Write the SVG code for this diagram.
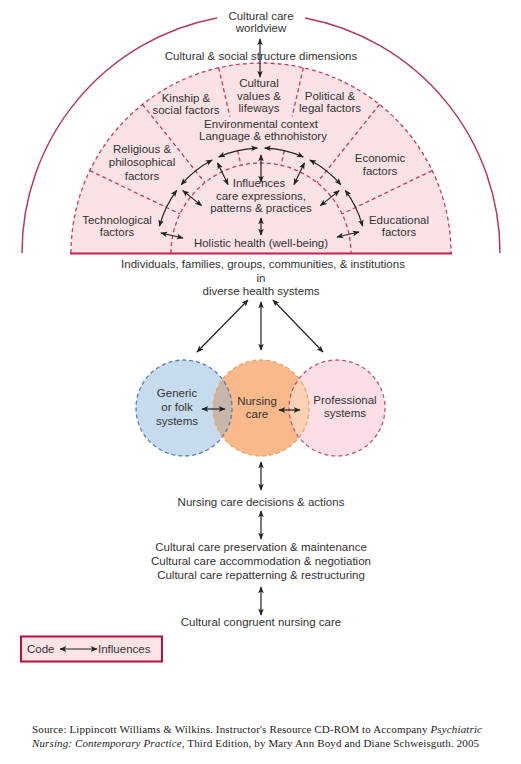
<svg xmlns="http://www.w3.org/2000/svg" width="521" height="764" viewBox="0 0 521 764">
<style>
text{font-family:"Liberation Sans",Arial,sans-serif;font-size:11.5px;fill:#333;text-anchor:middle}
.src{font-family:"Liberation Serif","Times New Roman",serif;font-size:11px;fill:#222;text-anchor:start}
.dash{fill:none;stroke:#c93a62;stroke-width:1.3;stroke-dasharray:4 3}
.arr{fill:none;stroke:#222;stroke-width:1.2;marker-start:url(#ah);marker-end:url(#ah)}
</style>
<defs>
<marker id="ah" viewBox="0 0 10 10" refX="9" refY="5" markerWidth="7" markerHeight="7" markerUnits="userSpaceOnUse" orient="auto-start-reverse">
<path d="M0,1 L10,5 L0,9 L2.5,5 Z" fill="#222"/>
</marker>
<clipPath id="cBlue"><circle cx="184" cy="408" r="48"/></clipPath>
<clipPath id="cPink"><circle cx="337" cy="408" r="48"/></clipPath>
</defs>
<rect width="521" height="764" fill="#fff"/>

<g id="worldview">
<path d="M22,253 A239,239 0 0,1 217,18.1 M305,18.1 A239,239 0 0,1 500,253" fill="none" stroke="#b23a5e" stroke-width="1.5"/>
<text x="261" y="20">Cultural care</text>
<text x="261" y="32">worldview</text>
</g>

<g id="social-structure">
<path d="M71,253 A190,190 0 0,1 451,253 Z" fill="#fbe2e5" stroke="none"/>
<path d="M71,253 A190,190 0 0,1 451,253" class="dash"/>
<path class="dash" d="M432.18,170.56 L342.09,213.95 M379.46,104.45 L317.11,182.64 M303.28,67.76 L292.15,116.51 M284.36,150.63 L281.03,165.26 M218.72,67.76 L229.85,116.51 M237.64,150.63 L240.97,165.26 M142.54,104.45 L204.89,182.64 M89.82,170.56 L179.91,213.95"/>
<path d="M171,253 A90,90 0 0,1 351,253" class="dash"/>
<line x1="70" y1="253.5" x2="452" y2="253.5" stroke="#c41e4e" stroke-width="2.2"/>
</g>

<g id="connectors">
<line class="arr" x1="260" y1="39" x2="260" y2="77"/>
<path class="arr" d="M159.51,226.08 A105,105 0 0,1 176.68,190.43"/>
<path class="arr" d="M181.24,184.71 A105,105 0 0,1 212.17,160.05"/>
<path class="arr" d="M218.77,156.87 A105,105 0 0,1 257.34,148.06"/>
<path class="arr" d="M264.66,148.06 A105,105 0 0,1 303.23,156.87"/>
<path class="arr" d="M309.83,160.05 A105,105 0 0,1 340.76,184.71"/>
<path class="arr" d="M345.32,190.43 A105,105 0 0,1 362.49,226.08"/>
<line class="arr" x1="261" y1="155" x2="261" y2="182"/>
<line class="arr" x1="217.6" y1="162.9" x2="228" y2="184.5"/>
<line class="arr" x1="182.8" y1="190.6" x2="201.6" y2="205.6"/>
<line class="arr" x1="304.4" y1="162.9" x2="294" y2="184.5"/>
<line class="arr" x1="339.2" y1="190.6" x2="320.4" y2="205.6"/>
<line class="arr" x1="261" y1="218" x2="261" y2="235"/>
<line class="arr" x1="161" y1="233" x2="183" y2="238"/>
<line class="arr" x1="359" y1="232" x2="337" y2="237"/>
<line class="arr" x1="248" y1="300" x2="197" y2="352"/>
<line class="arr" x1="261" y1="302" x2="261" y2="350"/>
<line class="arr" x1="273" y1="300" x2="323" y2="352"/>
<line class="arr" x1="261" y1="462" x2="261" y2="490"/>
<line class="arr" x1="261" y1="511" x2="261" y2="539"/>
<line class="arr" x1="261" y1="587" x2="261" y2="615"/>
</g>

<g id="labels-structure">
<text x="261" y="60">Cultural &amp; social structure dimensions</text>
<text x="186" y="102">Kinship &amp;</text>
<text x="186" y="114">social factors</text>
<text x="259" y="87">Cultural</text>
<text x="259" y="100">values &amp;</text>
<text x="259" y="112">lifeways</text>
<text x="330" y="100">Political &amp;</text>
<text x="330" y="112">legal factors</text>
<text x="261" y="128">Environmental context</text>
<text x="263" y="140">Language &amp; ethnohistory</text>
<text x="142" y="153">Religious &amp;</text>
<text x="142" y="166">philosophical</text>
<text x="142" y="180">factors</text>
<text x="380" y="162">Economic</text>
<text x="380" y="175">factors</text>
<text x="117" y="224">Technological</text>
<text x="117" y="236">factors</text>
<text x="399" y="224">Educational</text>
<text x="399" y="236">factors</text>
<text x="259" y="187">Influences</text>
<text x="261" y="200">care expressions,</text>
<text x="261" y="212">patterns &amp; practices</text>
<text x="261" y="247">Holistic health (well-being)</text>
</g>

<g id="individuals">
<text x="263" y="268">Individuals, families, groups, communities, &amp; institutions</text>
<text x="261" y="282">in</text>
<text x="261" y="295">diverse health systems</text>
</g>

<g id="systems">
<circle cx="184" cy="408" r="48" fill="#c6dcee"/>
<circle cx="337" cy="408" r="48" fill="#fcdfe5"/>
<circle cx="261" cy="408" r="48" fill="#f9b98a"/>
<circle cx="261" cy="408" r="48" fill="#c9b6aa" clip-path="url(#cBlue)"/>
<circle cx="261" cy="408" r="48" fill="#fbd2b4" clip-path="url(#cPink)"/>
<circle cx="184" cy="408" r="48" fill="none" stroke="#4f7fb5" stroke-width="1.3" stroke-dasharray="4 3"/>
<circle cx="337" cy="408" r="48" fill="none" stroke="#c8507a" stroke-width="1.3" stroke-dasharray="4 3"/>
<circle cx="261" cy="408" r="48" fill="none" stroke="#eba56a" stroke-width="1.3" stroke-dasharray="4 3"/>
</g>
<g id="generic">
<text x="177" y="397">Generic</text>
<text x="177" y="411">or folk</text>
<text x="177" y="425">systems</text>
</g>
<g id="nursing">
<text x="257" y="405">Nursing</text>
<text x="257" y="418">care</text>
</g>
<g id="professional">
<text x="345" y="404">Professional</text>
<text x="345" y="417">systems</text>
</g>
<g id="connectors-systems">
<line class="arr" x1="202" y1="409" x2="225" y2="409"/>
<line class="arr" x1="279" y1="410" x2="300" y2="410"/>
</g>

<g id="decisions">
<text x="261" y="506">Nursing care decisions &amp; actions</text>
</g>
<g id="modes">
<text x="261" y="551">Cultural care preservation &amp; maintenance</text>
<text x="261" y="565">Cultural care accommodation &amp; negotiation</text>
<text x="261" y="579">Cultural care repatterning &amp; restructuring</text>
</g>
<g id="congruent">
<text x="261" y="626">Cultural congruent nursing care</text>
</g>

<g id="legend">
<rect x="21" y="636.5" width="141" height="25" fill="#fbe3e6" stroke="#b5123f" stroke-width="2"/>
<text x="27" y="653" style="text-anchor:start">Code</text>
<line class="arr" x1="60" y1="649" x2="97" y2="649"/>
<text x="98" y="653" style="text-anchor:start">Influences</text>
</g>

<g id="source">
<text class="src" x="32" y="733" textLength="450" lengthAdjust="spacing">Source: Lippincott Williams &amp; Wilkins. Instructor's Resource CD-ROM to Accompany <tspan font-style="italic">Psychiatric</tspan></text>
<text class="src" x="32" y="747" textLength="447" lengthAdjust="spacing"><tspan font-style="italic">Nursing: Contemporary Practice</tspan>, Third Edition, by Mary Ann Boyd and Diane Schweisguth. 2005</text>
</g>
</svg>
